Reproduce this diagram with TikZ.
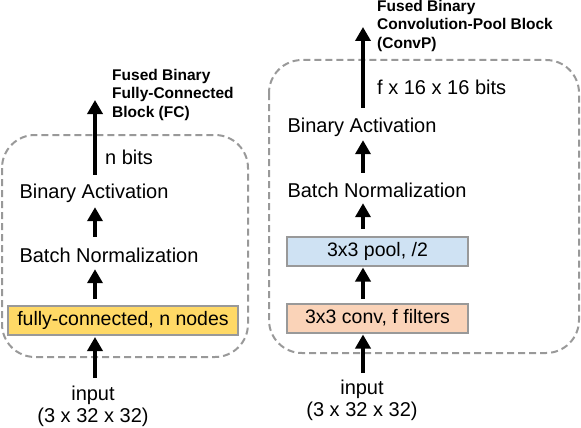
\documentclass[tikz,border=0pt]{standalone}
\usepackage{fontspec}
\setmainfont{Liberation Sans}
\usetikzlibrary{arrows.meta}
\definecolor{dashgray}{HTML}{999999}
\definecolor{boxgray}{HTML}{999999}
\definecolor{fcyellow}{HTML}{FFD966}
\definecolor{convpeach}{HTML}{FAD3B8}
\definecolor{poolblue}{HTML}{CFE2F3}
\tikzset{
  x=1pt, y=1pt,
  blockframe/.style={draw=dashgray, line width=2pt, dash pattern=on 7pt off 4pt, rounded corners=33pt},
  layerbox/.style={draw=boxgray, line width=2pt, minimum height=29pt, inner sep=0pt, font=\fontsize{19.5}{22}\selectfont},
  lbl/.style={inner sep=0pt, text height=14pt, text depth=4pt, anchor=base, font=\fontsize{20}{22}\selectfont},
  inlbl/.style={inner sep=0pt, align=center, font=\fontsize{20}{22}\selectfont},
  ttl/.style={inner sep=0pt, align=left, anchor=north west, font=\fontsize{15.5}{18.5}\selectfont\bfseries},
  arr/.style={line width=4.5pt, -{Triangle[width=15pt,length=14pt]}},
}
\begin{document}
\begin{tikzpicture}
\useasboundingbox (0,0) rectangle (581,-428);
% ---------- left block (FC) ----------
\draw[blockframe] (2,-135) rectangle (248,-357);
\node[layerbox, fill=fcyellow, minimum width=230pt] (fc) at (123,-320.5) {fully-connected, n nodes};
\node[lbl] (bnL) at (109,-262) {Batch Normalization};
\node[lbl] (baL) at (94,-198) {Binary Activation};
\node[inlbl, anchor=north] (inL) at (93,-386) {input\\(3 x 32 x 32)};
\coordinate (xL) at (95,0);
\coordinate (outL) at (95,-100);
\node[lbl, anchor=base west] (nbits) at (105,-164) {n bits};
\node[ttl] (titleL) at (112,-69) {Fused Binary\\Fully-Connected\\Block (FC)};
\draw[arr, shorten <=8pt, shorten >=1pt] (inL.north -| xL) -- (fc.south -| xL);
\draw[arr, shorten <=6pt, shorten >=3pt] (fc.north -| xL) -- (bnL.south -| xL);
\draw[arr, shorten <=11pt, shorten >=5pt] (bnL.north -| xL) -- (baL.south -| xL);
\draw[arr, shorten <=9pt] (baL.north -| xL) -- (outL);
% ---------- right block (ConvP) ----------
\draw[blockframe] (269,-60) rectangle (579,-353);
\node[layerbox, fill=convpeach, minimum width=181pt] (conv) at (377.5,-318) {3x3 conv, f filters};
\node[layerbox, fill=poolblue, minimum width=181pt] (pool) at (377.5,-251) {3x3 pool, /2};
\node[lbl] (bnR) at (377,-197) {Batch Normalization};
\node[lbl] (baR) at (362,-132) {Binary Activation};
\node[inlbl, anchor=north] (inR) at (362,-380) {input\\(3 x 32 x 32)};
\coordinate (xR) at (363,0);
\coordinate (outR) at (363,-27);
\node[lbl, anchor=base west] (fbits) at (377,-95) {f x 16 x 16 bits};
\node[ttl] (titleR) at (377,0) {Fused Binary\\Convolution-Pool Block\\(ConvP)};
\draw[arr, shorten <=7pt, shorten >=1pt] (inR.north -| xR) -- (conv.south -| xR);
\draw[arr, shorten <=4pt, shorten >=1pt] (conv.north -| xR) -- (pool.south -| xR);
\draw[arr, shorten <=7pt, shorten >=2pt] (pool.north -| xR) -- (bnR.south -| xR);
\draw[arr, shorten <=10pt, shorten >=4pt] (bnR.north -| xR) -- (baR.south -| xR);
\draw[arr, shorten <=10pt] (baR.north -| xR) -- (outR);
\end{tikzpicture}
\end{document}
